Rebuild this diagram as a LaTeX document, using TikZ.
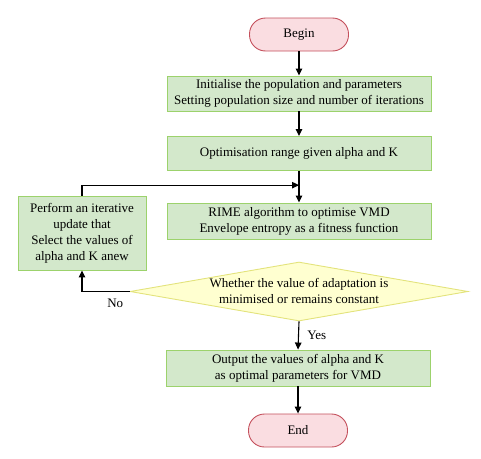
\documentclass[tikz,border=0pt]{standalone}
\usepackage{fontspec}
\setmainfont{Liberation Serif}
\usepackage{xcolor}
\usetikzlibrary{arrows.meta, positioning, calc, shapes}

\definecolor{pinkfill}{HTML}{FADDE1}
\definecolor{pinkline}{HTML}{C4505C}
\definecolor{greenfill}{HTML}{D3E8CB}
\definecolor{greenline}{HTML}{9CD26C}
\definecolor{yellowfill}{HTML}{FFFFD0}
\definecolor{yellowline}{HTML}{E3E37C}

\begin{document}
\begin{tikzpicture}[x=1pt, y=1pt,
        font=\fontsize{13}{16}\selectfont,
        terminal/.style={draw=pinkline, fill=pinkfill, line width=0.9pt, rounded corners=16pt, minimum width=99pt, minimum height=33pt},
        process/.style={draw=greenline, fill=greenfill, line width=0.9pt, align=center, minimum width=264pt, minimum height=35pt, inner sep=1pt},
        decision/.style={diamond, draw=yellowline, fill=yellowfill, line width=0.9pt, minimum width=338pt, minimum height=59pt, inner sep=0pt},
        arr/.style={-{Triangle[length=7pt, width=6.5pt]}, line width=1.1pt}]
            \useasboundingbox (0,0) rectangle (481,-458);

            % 主流程
            \node[terminal] (begin) at (299,-34.5) {Begin};
            \node[process] (init) at (299,-93.5) {Initialise the population and parameters\\Setting population size and number of iterations};
            \node[process, minimum height=34pt] (range) at (299,-153.5) {Optimisation range given alpha and K};
            \node[process, minimum height=36pt] (rime) at (299,-221) {RIME algorithm to optimise VMD\\Envelope entropy as a fitness function};

            % 判断
            \node[decision] (dec) at (299,-291.5) {};
            \node[align=center] (dectext) at (299,-291) {Whether the value of adaptation is\\minimised or remains constant};

            \node[process, minimum height=36pt] (out) at (298,-368) {Output the values of alpha and K\\as optimal parameters for VMD};
            \node[terminal] (end) at (298,-430.5) {End};

            % 迭代更新
            \node[process, minimum width=128pt, minimum height=74pt] (upd) at (82,-233) {Perform an iterative\\update that\\Select the values of\\alpha and K anew};

            % 箭头
            \draw[arr] (begin) -- (init);
            \draw[arr] (init) -- (range);
            \draw[arr] (range) -- (rime);
            \coordinate (merge) at ($(range.south)!0.45!(rime.north)$);
            \draw[arr] (upd.north) |- (merge);
            \draw[arr] (dec.west) -| (upd.south) node[pos=0.15, below=4pt] {No};
            \draw[arr] (dec.south) -- (out.north) node[midway, right=5pt] {Yes};
            \draw[arr] (out) -- (end);
        \end{tikzpicture}
\end{document}
